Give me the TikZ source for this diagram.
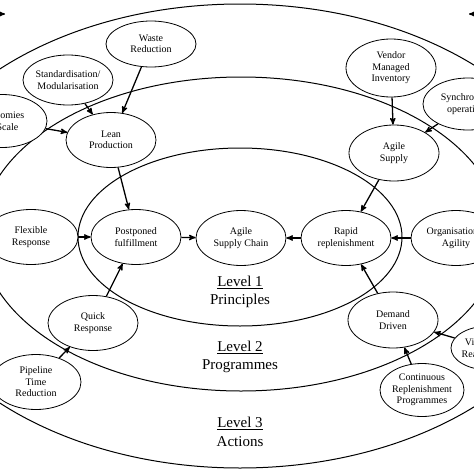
\documentclass[tikz,border=0pt]{standalone}
\usepackage{fontspec}
\setmainfont{Liberation Serif}
\usepackage{tikz}
\usetikzlibrary{arrows,shapes,positioning}

\newcommand{\nodefont}{\fontsize{10}{11.5}\selectfont}
\newcommand{\levelfont}{\fontsize{15}{18.5}\selectfont}

\tikzset{
    lvnode/.style={draw, ellipse, fill=white, line width=0.8pt, inner xsep=-6pt, inner ysep=-2pt,
        minimum width=90pt, minimum height=55pt, align=center, font=\nodefont},
    lvring/.style={line width=1pt},
    lvarrow/.style={->, >=stealth', line width=1.3pt}
}

\begin{document}
\begin{tikzpicture}[x=1pt, y=-1pt]
            \path[use as bounding box, clip] (0,0) rectangle (474,474);
            \fill[white] (0,0) rectangle (474,474);

            % the three levels
            \draw[lvring] (240,236) ellipse (346 and 232);
            \draw[lvring] (241,234) ellipse (260 and 157);
            \draw[lvring] (240,237) ellipse (162 and 89);

            % level 1: principles
            \node[lvnode] (asc) at (241,238) {Agile\\Supply Chain};
            \node[lvnode] (postp) at (136,237) {Postponed\\fulfillment};
            \node[lvnode] (rapid) at (346,238) {Rapid\\replenishment};

            % level 2: programmes
            \node[lvnode] (lean) at (111,140) {Lean\\Production};
            \node[lvnode, minimum width=94pt] (flex) at (31,237) {Flexible\\Response};
            \node[lvnode] (quick) at (93,323) {Quick\\Response};
            \node[lvnode, minimum height=56pt] (agsup) at (394,153) {Agile\\Supply};
            \node[lvnode] (orgag) at (456,238) {Organisational\\Agility};
            \node[lvnode, minimum height=56pt] (demand) at (393,320) {Demand\\Driven};

            % level 3: actions
            \node[lvnode, minimum height=46pt] (waste) at (151,44) {Waste\\Reduction};
            \node[lvnode, minimum height=50pt] (stdmod) at (68,80) {Standardisation/\\Modularisation};
            \node[lvnode, minimum height=53pt] (econ) at (2,121) {Economies\\of Scale};
            \node[lvnode, minimum height=58pt] (vmi) at (391,68) {Vendor\\Managed\\Inventory};
            \node[lvnode, minimum height=52pt] (sync) at (468,104) {Synchronised\\operations};
            \node[lvnode] (pipe) at (36,382) {Pipeline\\Time\\Reduction};
            \node[lvnode, minimum width=84pt, minimum height=53pt] (crp) at (422,390) {Continuous\\Replenishment\\Programmes};
            \node[lvnode, minimum width=76pt, minimum height=44pt] (virt) at (489,348) {Visibility of\\Real Demand};

            % level labels
            \node[font=\levelfont, align=center] (lev1) at (240,292) {\underline{Level 1}\\Principles};
            \node[font=\levelfont, align=center] (lev2) at (240,357) {\underline{Level 2}\\Programmes};
            \node[font=\levelfont, align=center] (lev3) at (240,432) {\underline{Level 3}\\Actions};

            % links
            \draw[lvarrow] (waste) -- (lean);
            \draw[lvarrow] (stdmod) -- (lean);
            \draw[lvarrow] (econ) -- (lean);
            \draw[lvarrow] (lean) -- (postp);
            \draw[lvarrow] (flex) -- (postp);
            \draw[lvarrow] (quick) -- (postp);
            \draw[lvarrow] (pipe) -- (quick);
            \draw[lvarrow] (postp) -- (asc);
            \draw[lvarrow] (rapid) -- (asc);
            \draw[lvarrow] (orgag) -- (rapid);
            \draw[lvarrow] (agsup) -- (rapid);
            \draw[lvarrow] (demand) -- (rapid);
            \draw[lvarrow] (vmi) -- (agsup);
            \draw[lvarrow] (sync) -- (agsup);
            \draw[lvarrow] (crp) -- (demand);
            \draw[lvarrow] (virt) -- (demand);

            % stubs from outside the frame
            \coordinate (tlfrom) at (-12,14);
            \coordinate (tlto) at (5,14);
            \coordinate (trfrom) at (486,14);
            \coordinate (trto) at (469,14);
            \draw[lvarrow] (tlfrom) -- (tlto);
            \draw[lvarrow] (trfrom) -- (trto);
        \end{tikzpicture}
\end{document}
